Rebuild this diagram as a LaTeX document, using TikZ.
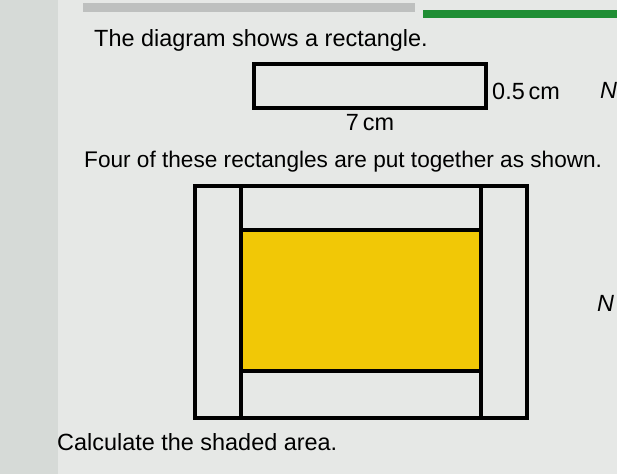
\documentclass[tikz,border=0pt]{standalone}
\usepackage{fontspec}
\setmainfont{Liberation Sans}
\definecolor{paper}{HTML}{E6E8E6}
\definecolor{bezel}{HTML}{D6DAD7}
\definecolor{barGray}{HTML}{BEC0BF}
\definecolor{barGreen}{HTML}{1F8E34}
\definecolor{shade}{HTML}{F1C806}
\tikzset{
  piece/.style={line width=2.7pt, line join=miter},
  txt/.style={inner sep=0pt, anchor=base west, font=\fontsize{20}{24}\selectfont}
}

\begin{document}
\begin{tikzpicture}[x=0.03cm, y=-0.03cm]

\useasboundingbox (0,0) rectangle (617,474);
\fill[paper] (0,0) rectangle (617,474);
\fill[bezel] (0,0) rectangle (58,474);
\fill[barGray] (83,3) rectangle (415,12);
\fill[barGreen] (423,10) rectangle (617,18);

\node[txt] (intro) at (94,46) {The diagram shows a rectangle.};

% one rectangle
\draw[piece] (254,64) rectangle (486,108);
\node[txt] (height) at (492,99) {0.5\,cm};
\node[txt, anchor=base] (length) at (370,130) {7\,cm};
\node[txt] (note1) at (600,98) {\itshape N};

\node[txt, font=\fontsize{19.3}{23}\selectfont] (four) at (84,167) {Four of these rectangles are put together as shown.};

% four rectangles round the shaded one
\draw[piece, fill=shade] (241,230) rectangle (481,371);
\draw[piece] (195,186) rectangle (241,418);
\draw[piece] (481,186) rectangle (527,418);
\draw[piece] (241,186) rectangle (481,230);
\draw[piece] (241,371) rectangle (481,418);
\node[txt] (note2) at (597,311) {\itshape N};

\node[txt] (ask) at (57,450) {Calculate the shaded area.};

\end{tikzpicture}
\end{document}
